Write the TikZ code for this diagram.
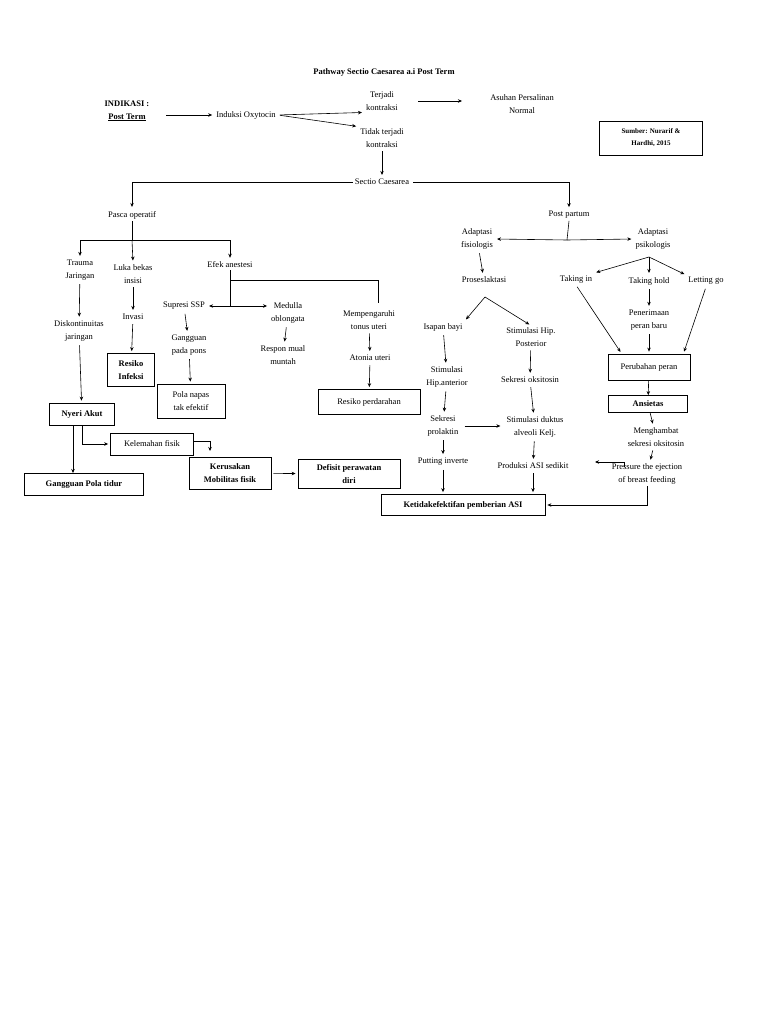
\documentclass[tikz,border=0pt]{standalone}
\usepackage{fontspec}
\setmainfont{Liberation Serif}
\usetikzlibrary{arrows.meta,calc}
\begin{document}
\begin{tikzpicture}[x=1pt,y=-1pt,
  every node/.style={font=\fontsize{8.5}{12.5}\selectfont,align=center,inner sep=2pt},
  bx/.style={draw,line width=0.8pt,minimum width=#1,minimum height=22pt},
  bx/.default=60pt,
  bb/.style={bx=#1,font=\fontsize{8.5}{12.5}\selectfont\bfseries},
  bb/.default=60pt,
  a/.style={-{Stealth[length=4pt,width=3.5pt]},line width=0.6pt,shorten >=2pt,shorten <=2pt},
  ln/.style={line width=0.6pt}]
\useasboundingbox (0,0) rectangle (768,1024);
\node[font=\fontsize{8.5}{12.5}\selectfont\bfseries] (title) at (384,72) {Pathway Sectio Caesarea a.i Post Term};
\node[font=\fontsize{8.5}{12.5}\selectfont\bfseries] (ind) at (127,111) {INDIKASI :\\\underline{Post Term}};
\node (oxy) at (246,115) {Induksi Oxytocin};
\node (ter) at (382,101) {Terjadi\\kontraksi};
\node (tid) at (382,138) {Tidak terjadi\\kontraksi};
\node (asu) at (522,104) {Asuhan Persalinan\\Normal};
\node[draw,line width=0.8pt,minimum width=103pt,minimum height=34pt,font=\fontsize{7}{12}\selectfont\bfseries] (sum) at (651,138) {Sumber: Nurarif \&\\Hardhi, 2015};
\node (sc) at (382,182) {Sectio Caesarea};
\coordinate (i1) at (166,115);
\draw[a,shorten <=0pt] (i1) -- (oxy.west);
\draw[a] (oxy.east) -- (ter.south west);
\draw[a] (oxy.east) -- (tid.north west);
\coordinate (t1) at (418,101);
\coordinate (t2) at (462,101);
\draw[a,shorten <=0pt,shorten >=0pt] (t1) -- (t2);
\draw[a] (tid) -- (sc);
% left branch
\node (pasca) at (132,215) {Pasca operatif};
\draw[a,shorten <=0pt] (sc.west) -| (pasca.north);
\node (pp) at (569,215) {Post partum};
\draw[a,shorten <=0pt] (sc.east)++(2,0) -| (pp.north);
% pasca branches
\node (trauma) at (80,270) {Trauma\\Jaringan};
\node (luka) at (133,274) {Luka bekas\\insisi};
\node (efek) at (230,265) {Efek anestesi};
\coordinate (pb) at (132,240);
\draw[ln] (pasca.south) -- (pb);
\draw[a,shorten <=0pt] (pb) -- (luka.north);
\draw[a,shorten <=0pt] (pb) -| (trauma.north);
\draw[a,shorten <=0pt] (pb) -| (efek.north);
\node (disk) at (79,331) {Diskontinuitas\\jaringan};
\draw[a] (trauma) -- (disk);
\node[bb=65pt] (nyeri) at (82,414) {Nyeri Akut};
\draw[a] (disk) -- (nyeri);
\node[bb=119pt] (gpt) at (84,484) {Gangguan Pola tidur};
\coordinate (n1) at (73,425);
\coordinate (n2) at (73,473);
\draw[a,shorten <=0pt,shorten >=0pt] (n1) -- (n2);
\node[bx=83pt] (kel) at (152,444) {Kelemahan fisik};
\draw[a,shorten <=0pt] (nyeri.south) |- (kel.west);
\node[bb=82pt,minimum height=32pt] (ker) at (230,473) {Kerusakan\\Mobilitas fisik};
\coordinate (k1) at (193.5,441);
\coordinate (k2) at (210,451);
\draw[a,shorten <=0pt,shorten >=0pt] (k1) -| (k2);
\node[bb=102pt,minimum height=29pt] (def) at (349,474) {Defisit perawatan\\diri};
\draw[a] (ker) -- (def);
\node (inv) at (133,317) {Invasi};
\draw[a] (luka) -- (inv);
\node[bb=47pt,minimum height=33pt] (rinf) at (131,370) {Resiko\\Infeksi};
\draw[a] (inv) -- (rinf);
% efek
\node (sup) at (184,306) {Supresi SSP};
\node (med) at (288,313) {Medulla\\oblongata};
\coordinate (ec) at (230,306);
\draw[ln] (efek.south) -- (ec);
\draw[a,shorten <=0pt] (ec) -- (sup.east);
\draw[a,shorten <=0pt] (ec) -- (med.west|-ec);
\node (mem) at (369,320) {Mempengaruhi\\tonus uteri};
\coordinate (m1) at (230,280);
\coordinate (m2) at (378,303);
\draw[ln] (m1) -| (m2);
\node (gpp) at (189,345) {Gangguan\\pada pons};
\draw[a] (sup) -- (gpp);
\node[bx=68pt,minimum height=34pt] (pola) at (191,401) {Pola napas\\tak efektif};
\draw[a] (gpp) -- (pola);
\node (resp) at (283,355) {Respon mual\\muntah};
\draw[a] (med) -- (resp);
\node (aton) at (370,358) {Atonia uteri};
\draw[a] (mem) -- (aton);
\node[bx=102pt,minimum height=25pt] (rper) at (369,402) {Resiko perdarahan};
\draw[a] (aton) -- (rper);
% post partum
\node (afis) at (477,239) {Adaptasi\\fisiologis};
\node (apsi) at (653,239) {Adaptasi\\psikologis};
\coordinate (pc) at (567,240);
\draw[ln] (pp.south) -- (pc);
\draw[a,shorten <=0pt] (pc) -- (afis.east);
\draw[a,shorten <=0pt] (pc) -- (apsi.west);
\node (pros) at (484,280) {Proseslaktasi};
\draw[a] (afis) -- (pros);
\coordinate (pa) at (485,297);
\node (isap) at (443,327) {Isapan bayi};
\node (post) at (531,337) {Stimulasi Hip.\\Posterior};
\draw[a,shorten <=0pt] (pa) -- (isap.north east);
\draw[a,shorten <=0pt] (pa) -- (post.north);
\node (ant) at (447,377) {Stimulasi\\Hip.anterior};
\draw[a] (isap) -- (ant);
\node (prol) at (443,426) {Sekresi\\prolaktin};
\draw[a] (ant) -- (prol);
\node (put) at (443,462) {Putting inverte};
\draw[a] (prol) -- (put);
\node[bb=164pt,minimum height=21pt] (ket) at (463,505) {Ketidakefektifan pemberian ASI};
\draw[a] (put) -- (put|-ket.north);
\node (oks) at (530,380) {Sekresi oksitosin};
\draw[a] (post) -- (oks);
\node (duk) at (535,427) {Stimulasi duktus\\alveoli Kelj.};
\draw[a] (oks) -- (duk);
\draw[a,shorten <=4pt,shorten >=4pt] (prol.east) -- (duk.west|-prol.east);
\node (prod) at (533,466) {Produksi ASI sedikit};
\draw[a] (duk) -- (prod);
\draw[a] (prod) -- (prod|-ket.north);
% psikologis
\coordinate (pq) at (649,257);
\node (tin) at (576,279) {Taking in};
\node (thold) at (649,281) {Taking hold};
\node (lgo) at (706,281) {Letting go};
\draw[a,shorten <=0pt] (pq) -- (tin.north east);
\draw[a,shorten <=0pt] (pq) -- (thold.north);
\draw[a,shorten <=0pt] (pq) -- (lgo.north west);
\node (pen) at (649,320) {Penerimaan\\peran baru};
\draw[a] (thold) -- (pen);
\node[bx=82pt,minimum height=26pt] (per) at (649,367) {Perubahan peran};
\draw[a] (pen) -- (per);
\draw[a] (tin.south) -- ($(per.north west)+(14,0)$);
\draw[a] (lgo.south) -- ($(per.north east)+(-7,0)$);
\node[bb=79pt,minimum height=17pt] (ans) at (648,404) {Ansietas};
\draw[a,shorten <=0pt,shorten >=0pt] (per) -- (ans);
\node (meng) at (656,437) {Menghambat\\sekresi oksitosin};
\draw[a,shorten <=0pt] (ans) -- (meng);
\node (pres) at (647,474) {Pressure the ejection\\of breast feeding};
\draw[a] (meng) -- (pres);
\coordinate (p1) at (624,467);
\coordinate (p2) at (595,462);
\draw[a,shorten <=0pt,shorten >=0pt] (p1) |- (p2);
\draw[a,shorten <=0pt] (pres.south) |- (ket.east);
\end{tikzpicture}
\end{document}
